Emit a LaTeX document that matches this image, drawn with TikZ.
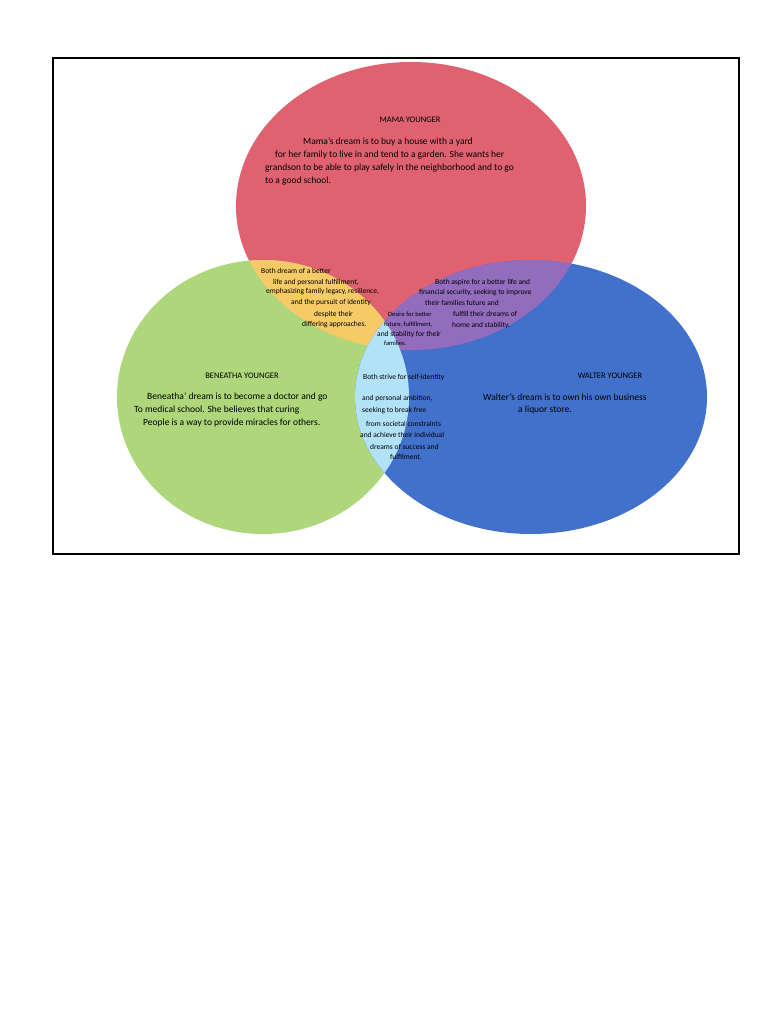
\documentclass[tikz,border=0pt]{standalone}
\usepackage{fontspec}
\setmainfont{Carlito}
\definecolor{mamared}{RGB}{224, 98, 112}
\definecolor{beneathagreen}{RGB}{174, 214, 122}
\definecolor{walterblue}{RGB}{66, 113, 204}
\definecolor{overlapyellow}{RGB}{246, 202, 102}
\definecolor{overlappurple}{RGB}{148, 108, 190}
\definecolor{overlaplight}{RGB}{178, 226, 248}
\begin{document}
\begin{tikzpicture}[
        x=1pt, y=-1pt,
        heading/.style={font=\fontsize{8.5}{10}\selectfont, inner sep=0pt},
        bodyline/.style={anchor=west, font=\fontsize{9.5}{11}\selectfont, inner sep=0pt},
        smallline/.style={anchor=west, font=\fontsize{7.5}{9}\selectfont, inner sep=0pt},
        tinyline/.style={anchor=west, font=\fontsize{6.5}{8}\selectfont, inner sep=0pt}
    ]
    \useasboundingbox (0,0) rectangle (768,1024);
    \fill[white] (0,0) rectangle (768,1024);

    % Circles
    \fill[mamared] (411,206) ellipse [x radius=175, y radius=144];
    \fill[beneathagreen] (263,397) ellipse [x radius=146, y radius=137];
    \fill[walterblue] (531,397) ellipse [x radius=176, y radius=137];

    % Overlaps
    \begin{scope}
        \clip (411,206) ellipse [x radius=175, y radius=144];
        \fill[overlapyellow] (263,397) ellipse [x radius=146, y radius=137];
        \fill[overlappurple] (531,397) ellipse [x radius=176, y radius=137];
    \end{scope}
    \begin{scope}
        \clip (263,397) ellipse [x radius=146, y radius=137];
        \fill[overlaplight] (531,397) ellipse [x radius=176, y radius=137];
    \end{scope}

    % Frame
    \draw[line width=2pt] (53,58) rectangle (739,554);

    % Headings
    \node[heading] (mama) at (410,120) {MAMA YOUNGER};
    \node[heading] (beneatha) at (242,376) {BENEATHA YOUNGER};
    \node[heading] (walter) at (610,376) {WALTER YOUNGER};

    % Dreams
    \foreach \x/\y/\t in {303/142/{Mama’s dream is to buy a house with a yard},
        275/155/{for her family to live in and tend to a garden. She wants her},
        265/168/{grandson to be able to play safely in the neighborhood and to go},
        265/181/{to a good school.},
        147/397/{Beneatha’ dream is to become a doctor and go},
        134/410/{To medical school. She believes that curing},
        143/423/{People is a way to provide miracles for others.},
        483/397/{Walter’s dream is to own his own business},
        518/410/{a liquor store.}}
        \node[bodyline] at (\x,\y) {\t};

    % Shared dreams
    \foreach \x/\y/\t in {261/271/{Both dream of a better},
        273/282/{life and personal fulfillment,},
        266/292/{emphasizing family legacy, resilience,},
        291/302/{and the pursuit of identity},
        314/314/{despite their},
        302/325/{differing approaches.},
        435/282/{Both aspire for a better life and},
        419/293/{financial security, seeking to improve},
        425/303/{their families future and},
        453/314/{fulfill their dreams of},
        452/325/{home and stability.},
        377/334/{and stability for their},
        363/377/{Both strive for self-identity},
        362/398/{and personal ambition,},
        362/411/{seeking to break free},
        366/424/{from societal constraints},
        360/435/{and achieve their individual},
        370/447/{dreams of success and},
        390/457/{fulfilment.}}
        \node[smallline] at (\x,\y) {\t};
    \foreach \x/\y/\t in {388/314/{Desire for better},
        384/325/{future, fulfillment,},
        384/343/{families.}}
        \node[tinyline] at (\x,\y) {\t};
\end{tikzpicture}
\end{document}
